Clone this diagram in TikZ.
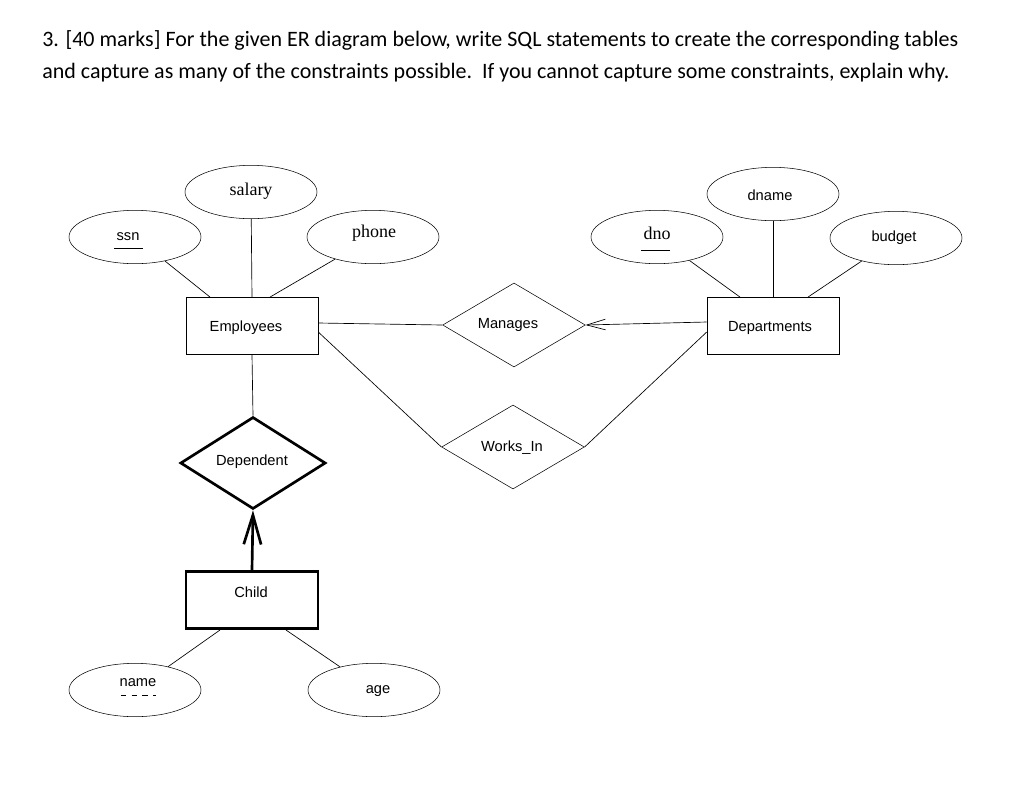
\documentclass[tikz,border=0pt]{standalone}
\usepackage{fontspec}
\setmainfont{Liberation Serif}
\setsansfont{Liberation Sans}
\newfontfamily\titlefont{Carlito}
\usetikzlibrary{shapes.geometric,arrows.meta}
\begin{document}
\begin{tikzpicture}[x=0.75pt,y=-0.75pt,
  attr/.style={draw,ellipse,minimum width=99pt,minimum height=40pt,inner sep=0pt},
  ent/.style={draw,rectangle,minimum width=99pt,minimum height=43pt,inner sep=0pt},
  rel/.style={draw,diamond,aspect=1.7,minimum width=107pt,minimum height=63pt,inner sep=0pt},
  lbl/.style={font=\sffamily\fontsize{11}{12}\selectfont},
  slbl/.style={font=\rmfamily\fontsize{13.5}{15}\selectfont},
  ln/.style={draw,line width=0.5pt},
  thk/.style={line width=2pt}]
\useasboundingbox (0,0) rectangle (1036,794);
\node[anchor=west,font=\titlefont\fontsize{16.5}{24}\selectfont,align=left,inner sep=0pt] (title) at (42,56)
 {3. [40 marks] For the given ER diagram below, write SQL statements to create the corresponding tables\\and capture as many of the constraints possible.\ \ If you cannot capture some constraints, explain why.};
% entities
\node[ent] (emp) at (252,326) {}; \node[lbl] at (246,328) {Employees};
\node[ent] (dep) at (773,326) {}; \node[lbl] at (770,328) {Departments};
\node[ent,thk] (child) at (252,600) {}; \node[lbl] at (251,592) {Child};
% relationships
\node[rel] (man) at (514,325) {}; \node[lbl] at (508,325) {Manages};
\node[rel] (wi) at (513,447) {}; \node[lbl] at (512,448) {Works\_In};
\node[rel,thk,minimum width=109pt,minimum height=69pt] (dpd) at (253,463) {}; \node[lbl] at (252,462) {Dependent};
% attributes
\node[attr] (ssn) at (135,237) {}; \node[lbl] at (128,237) {ssn};
\draw[line width=0.4pt] (114,248) -- (143,248);
\node[attr] (sal) at (251,192) {}; \node[slbl] at (251,191) {salary};
\node[attr] (pho) at (373,237) {}; \node[slbl] at (374,233) {phone};
\node[attr] (dno) at (657,237) {}; \node[slbl] at (657,233) {dno};
\draw[line width=0.4pt] (641,250) -- (670,250);
\node[attr] (dnm) at (773,194) {}; \node[lbl] at (770,195) {dname};
\node[attr] (bud) at (896,238) {}; \node[lbl] at (894,238) {budget};
\node[attr] (nam) at (135,690) {}; \node[lbl] at (138,683) {name};
\draw[line width=0.4pt,dash pattern=on 4pt off 4pt] (121,695) -- (156,695);
\node[attr] (age) at (374,690) {}; \node[lbl] at (378,691) {age};
% connector end points
\path (emp.north) ++(-42,0) coordinate (e1);
\path (emp.north) ++(18,0) coordinate (e2);
\path (emp.north) ++(0,0) coordinate (e0);
\path (dep.north) ++(-33,0) coordinate (d1);
\path (dep.north) ++(35,0) coordinate (d2);
\path (child.south) ++(-32,0) coordinate (c1);
\path (child.south) ++(34,0) coordinate (c2);
\path (emp.east) ++(0,-3) coordinate (em1);
\path (emp.east) ++(0,6) coordinate (em2);
\path (dep.west) ++(0,-4) coordinate (dp1);
\path (dep.west) ++(0,6) coordinate (dp2);
% connectors
\draw[ln] (ssn) -- (e1);
\draw[ln] (sal) -- (e0);
\draw[ln] (pho) -- (e2);
\draw[ln] (dno) -- (d1);
\draw[ln] (dnm) -- (dep.north);
\draw[ln] (bud) -- (d2);
\draw[ln] (em1) -- (man.west);
\draw[ln,-{Straight Barb[length=14pt,width=8pt]}] (dp1) -- (man.east);
\draw[ln] (em2) -- (wi.west);
\draw[ln] (wi.east) -- (dp2);
\draw[ln] (emp.south) -- (dpd.north);
\draw[thk,-{Straight Barb[length=22pt,width=13pt,line width=2pt]}] (child.north) -- (dpd.south);
\draw[ln] (c1) -- (nam);
\draw[ln] (c2) -- (age);
\end{tikzpicture}
\end{document}
